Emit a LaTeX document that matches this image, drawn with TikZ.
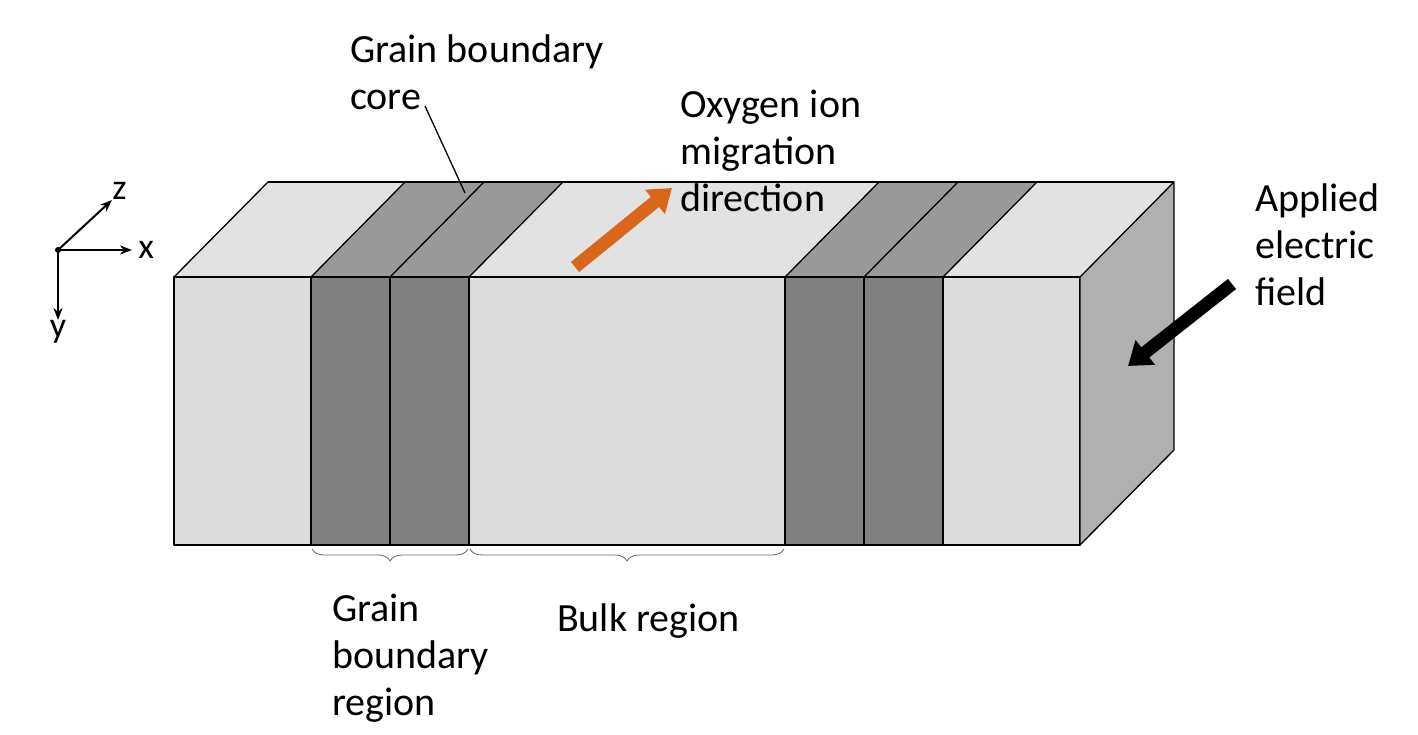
\documentclass[tikz,border=0pt]{standalone}
\usepackage{fontspec}
\setmainfont{Carlito}
\usetikzlibrary{decorations.pathreplacing,arrows.meta}
\definecolor{lightfront}{HTML}{DCDCDC}
\definecolor{lighttop}{HTML}{E2E2E2}
\definecolor{darkfront}{HTML}{808080}
\definecolor{darktop}{HTML}{999999}
\definecolor{sideface}{HTML}{B0B0B0}
\definecolor{oxarrow}{HTML}{D9661A}
\tikzset{face/.style={draw=black, line width=1.3pt, line join=round},
  label/.style={align=left, anchor=north west, font=\fontsize{40}{47}\selectfont, inner sep=0pt},
  axis/.style={line width=2pt, -{Stealth[length=12pt]}}}
\begin{document}
\begin{tikzpicture}[x=1pt, y=-1pt]
\useasboundingbox (0,0) rectangle (1418,735);
% front and top faces, strip by strip
\foreach \a/\b/\c/\d in {174/311/lightfront/lighttop, 311/390/darkfront/darktop, 390/469/darkfront/darktop,
  469/785/lightfront/lighttop, 785/864/darkfront/darktop, 864/943/darkfront/darktop, 943/1080/lightfront/lighttop}{
  \fill[\c] (\a,277) rectangle (\b,545);
  \fill[\d] (\a,277) -- (\a+94,182) -- (\b+94,182) -- (\b,277) -- cycle;
  \draw[face] (\a,277) -- (\a,545);
  \draw[face] (\a,277) -- (\a+94,182);
}
\draw[face] (174,277) rectangle (1080,545);
\draw[face] (268,182) -- (1174,182);
\draw[face, fill=sideface] (1080,277) -- (1174,182) -- (1174,450) -- (1080,545) -- cycle;
% axes
\coordinate (o) at (58,250);
\fill (o) circle (3pt);
\draw[axis] (o) -- (112,200) node[above right=-4pt, font=\fontsize{36}{40}\selectfont] (zlab) {z};
\draw[axis] (o) -- (132,250) node[right=2pt, font=\fontsize{36}{40}\selectfont] (xlab) {x};
\draw[axis] (o) -- (58,320) node[below=-4pt, font=\fontsize{36}{40}\selectfont] (ylab) {y};
% arrows
\coordinate (oxs) at (575,267);
\coordinate (oxe) at (672,188);
\draw[oxarrow, line width=13pt, -{Triangle[length=22pt, width=30pt]}] (oxs) -- (oxe);
\coordinate (efs) at (1232,284);
\coordinate (efe) at (1128,366);
\draw[black, line width=13pt, -{Triangle[length=22pt, width=30pt]}] (efs) -- (efe);
% labels
\node[label] (core) at (350,35) {Grain boundary\\core};
\coordinate (coretip) at (465,193);
\draw[line width=1.3pt] (425,106) -- (coretip);
\node[label] (oxygen) at (680,90) {Oxygen ion\\migration\\direction};
\node[label] (field) at (1255,184) {Applied\\electric\\field};
\node[label] (gbreg) at (332,594) {Grain\\boundary\\region};
\node[label] (bulk) at (557,604) {Bulk region};
% braces
\draw[decorate, decoration={brace, amplitude=12pt, mirror}, line width=0.8pt, black!60] (312,549) -- (468,549);
\draw[decorate, decoration={brace, amplitude=12pt, mirror}, line width=0.8pt, black!60] (470,549) -- (784,549);
\end{tikzpicture}
\end{document}
